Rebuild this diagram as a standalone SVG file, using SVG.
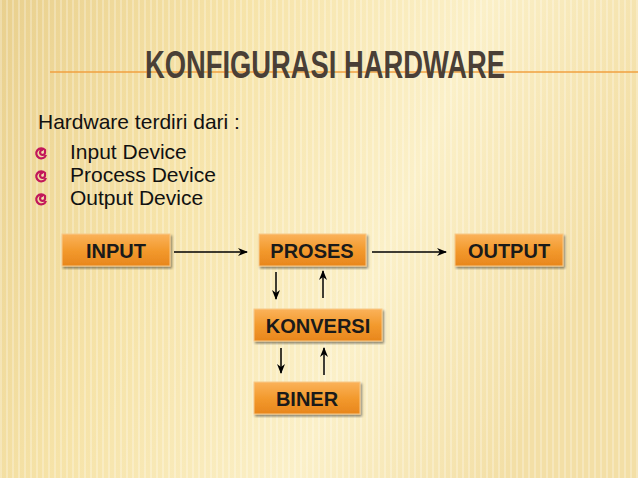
<svg xmlns="http://www.w3.org/2000/svg" width="638" height="478" viewBox="0 0 638 478">
<defs>
<linearGradient id="bg" x1="0" y1="0" x2="1" y2="0.3">
<stop offset="0" stop-color="#e9d08e"/><stop offset="0.35" stop-color="#f6e3a8"/><stop offset="0.7" stop-color="#fbf0c8"/><stop offset="1" stop-color="#f3dfa6"/>
</linearGradient>
<linearGradient id="box" x1="0" y1="0" x2="0" y2="1">
<stop offset="0" stop-color="#fbb25a"/><stop offset="0.5" stop-color="#f39a2e"/><stop offset="1" stop-color="#e8861c"/>
</linearGradient>
<pattern id="stripes" width="6" height="10" patternUnits="userSpaceOnUse">
<rect width="2" height="10" fill="#ffffff" opacity="0.25"/>
</pattern>
<marker id="ah" markerWidth="10" markerHeight="8" refX="9" refY="4" orient="auto" markerUnits="userSpaceOnUse">
<path d="M0,0 L10,4 L0,8 L3,4 Z" fill="#000"/>
</marker>
<filter id="sh"><feDropShadow dx="1.5" dy="2" stdDeviation="1.2" flood-opacity="0.45"/></filter>
</defs>
<style>
.bx{fill:url(#box);stroke:#f7c98a;stroke-width:1;filter:url(#sh)}
.lb{font-family:"Liberation Sans",Arial,sans-serif;font-weight:bold;font-size:20px;fill:#1a1a1a;text-anchor:middle}
.tx{font-family:"Liberation Sans",Arial,sans-serif;font-size:21px;fill:#111}
.bl{fill:none;stroke:#c2185b;stroke-width:2.2}
.cn line{stroke:#000;stroke-width:1.5;marker-end:url(#ah)}
</style>
<rect width="638" height="478" fill="url(#bg)"/>
<rect width="638" height="478" fill="url(#stripes)"/>
<line x1="50" y1="72" x2="638" y2="72" stroke="#f0a040" stroke-width="1.5"/>
<text x="325" y="78" text-anchor="middle" font-family="'Liberation Sans',Arial,sans-serif" font-weight="bold" font-size="38" fill="#4a3f36" textLength="360" lengthAdjust="spacingAndGlyphs">KONFIGURASI HARDWARE</text>
<text class="tx" x="38" y="129">Hardware terdiri dari :</text>
<g class="bl">
<path d="M46,155 a5,5 0 1,1 -1,-5 L45,152 a2.5,2.5 0 1,1 -2,-2"/>
<path d="M46,178 a5,5 0 1,1 -1,-5 L45,175 a2.5,2.5 0 1,1 -2,-2"/>
<path d="M46,201 a5,5 0 1,1 -1,-5 L45,198 a2.5,2.5 0 1,1 -2,-2"/>
</g>
<text class="tx" x="70" y="159">Input Device</text>
<text class="tx" x="70" y="182">Process Device</text>
<text class="tx" x="70" y="205">Output Device</text>
<g class="cn">
<line x1="174" y1="252" x2="247" y2="252"/>
<line x1="372" y1="252" x2="446" y2="252"/>
<line x1="276" y1="272" x2="276" y2="299"/>
<line x1="323" y1="298" x2="323" y2="271"/>
<line x1="281" y1="348" x2="281" y2="373"/>
<line x1="324" y1="375" x2="324" y2="348"/>
</g>
<g id="input"><rect class="bx" x="62" y="234" width="108" height="32"/><text class="lb" x="116" y="258">INPUT</text></g>
<g id="proses"><rect class="bx" x="259" y="234" width="107" height="32"/><text class="lb" x="312" y="258">PROSES</text></g>
<g id="output"><rect class="bx" x="455" y="234" width="108" height="32"/><text class="lb" x="509" y="258">OUTPUT</text></g>
<g id="konversi"><rect class="bx" x="254" y="309" width="128" height="32"/><text class="lb" x="318" y="333">KONVERSI</text></g>
<g id="biner"><rect class="bx" x="254" y="382" width="106" height="32"/><text class="lb" x="307" y="406">BINER</text></g>
</svg>
